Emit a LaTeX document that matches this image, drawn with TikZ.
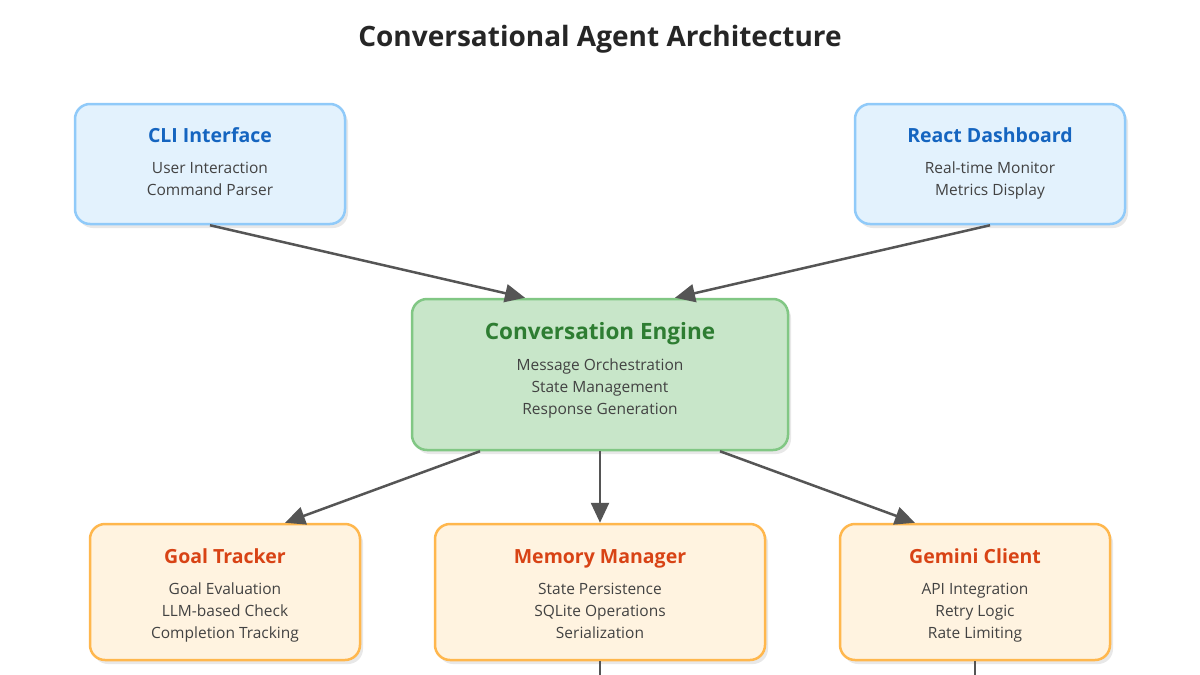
\documentclass[tikz,border=0pt]{standalone}
\usepackage{fontspec}
\setmainfont{Open Sans}
\usepackage{tikz}
\usetikzlibrary{positioning,arrows.meta,shadows,calc}
\definecolor{cuifill}{HTML}{E3F2FD}
\definecolor{cuiline}{HTML}{90CAF9}
\definecolor{cuitext}{HTML}{1565C0}
\definecolor{coreFill}{HTML}{C8E6C9}
\definecolor{coreline}{HTML}{81C784}
\definecolor{coretext}{HTML}{2E7D32}
\definecolor{svcfill}{HTML}{FFF3E0}
\definecolor{svcline}{HTML}{FFB74D}
\definecolor{svctext}{HTML}{D84315}
\definecolor{bodytext}{HTML}{424242}
\definecolor{edgeline}{HTML}{555555}
\tikzset{cbox/.style={rectangle, rounded corners=15pt, line width=2.5pt, align=center, inner sep=0pt, text=bodytext,
  font=\fontsize{15.5}{22}\selectfont, drop shadow={opacity=0.18, shadow xshift=3pt, shadow yshift=-4pt}}}
\tikzset{cui/.style={cbox, draw=cuiline, fill=cuifill, minimum width=270pt, minimum height=120pt}}
\tikzset{ccore/.style={cbox, draw=coreline, fill=coreFill, minimum width=376pt, minimum height=151pt}}
\tikzset{csvc/.style={cbox, draw=svcline, fill=svcfill, minimum height=136pt}}
\tikzset{cedge/.style={-{Triangle[length=20pt, width=18pt]}, draw=edgeline, line width=2.5pt}}
\tikzset{cline/.style={draw=edgeline, line width=2.5pt}}
\newcommand{\boxhead}[2]{{\fontsize{19.5}{22}\selectfont\bfseries\color{#1}#2}\\[9pt]}

\begin{document}
\begin{tikzpicture}[x=1pt, y=-1pt]
  \clip (0,0) rectangle (1200,675);
  \fill[white] (0,0) rectangle (1200,675);

  \node[font=\fontsize{28}{32}\selectfont\bfseries, text=black!85] (title) at (600,39) {Conversational Agent Architecture};

  \node[cui] (cli) at (210,164) {\boxhead{cuitext}{CLI Interface}User Interaction\\Command Parser\\[-18pt]};
  \node[cui] (dash) at (990,164) {\boxhead{cuitext}{React Dashboard}Real-time Monitor\\Metrics Display\\[-18pt]};

  \node[ccore] (engine) at (600,374.5) {\boxhead{coretext}{\fontsize{22.5}{24}\selectfont Conversation Engine}Message Orchestration\\State Management\\Response Generation\\[-10pt]};

  \node[csvc, minimum width=270pt] (goal) at (225,592) {\boxhead{svctext}{Goal Tracker}Goal Evaluation\\LLM-based Check\\Completion Tracking\\[-26pt]};
  \node[csvc, minimum width=330pt] (memory) at (600,592) {\boxhead{svctext}{Memory Manager}State Persistence\\SQLite Operations\\Serialization\\[-26pt]};
  \node[csvc, minimum width=270pt] (gemini) at (975,592) {\boxhead{svctext}{Gemini Client}API Integration\\Retry Logic\\Rate Limiting\\[-26pt]};

  \coordinate (memdown) at (600,700);
  \coordinate (gemdown) at (975,700);

  \draw[cedge] (cli.south) -- ($(engine.north)+(-75,0)$);
  \draw[cedge] (dash.south) -- ($(engine.north)+(75,0)$);
  \draw[cedge] ($(engine.south)+(-120,0)$) -- ($(goal.north)+(60,0)$);
  \draw[cedge] (engine.south) -- (memory.north);
  \draw[cedge] ($(engine.south)+(120,0)$) -- ($(gemini.north)+(-60,0)$);
  \draw[cline] (memory.south) -- (memdown);
  \draw[cline] (gemini.south) -- (gemdown);
\end{tikzpicture}
\end{document}
